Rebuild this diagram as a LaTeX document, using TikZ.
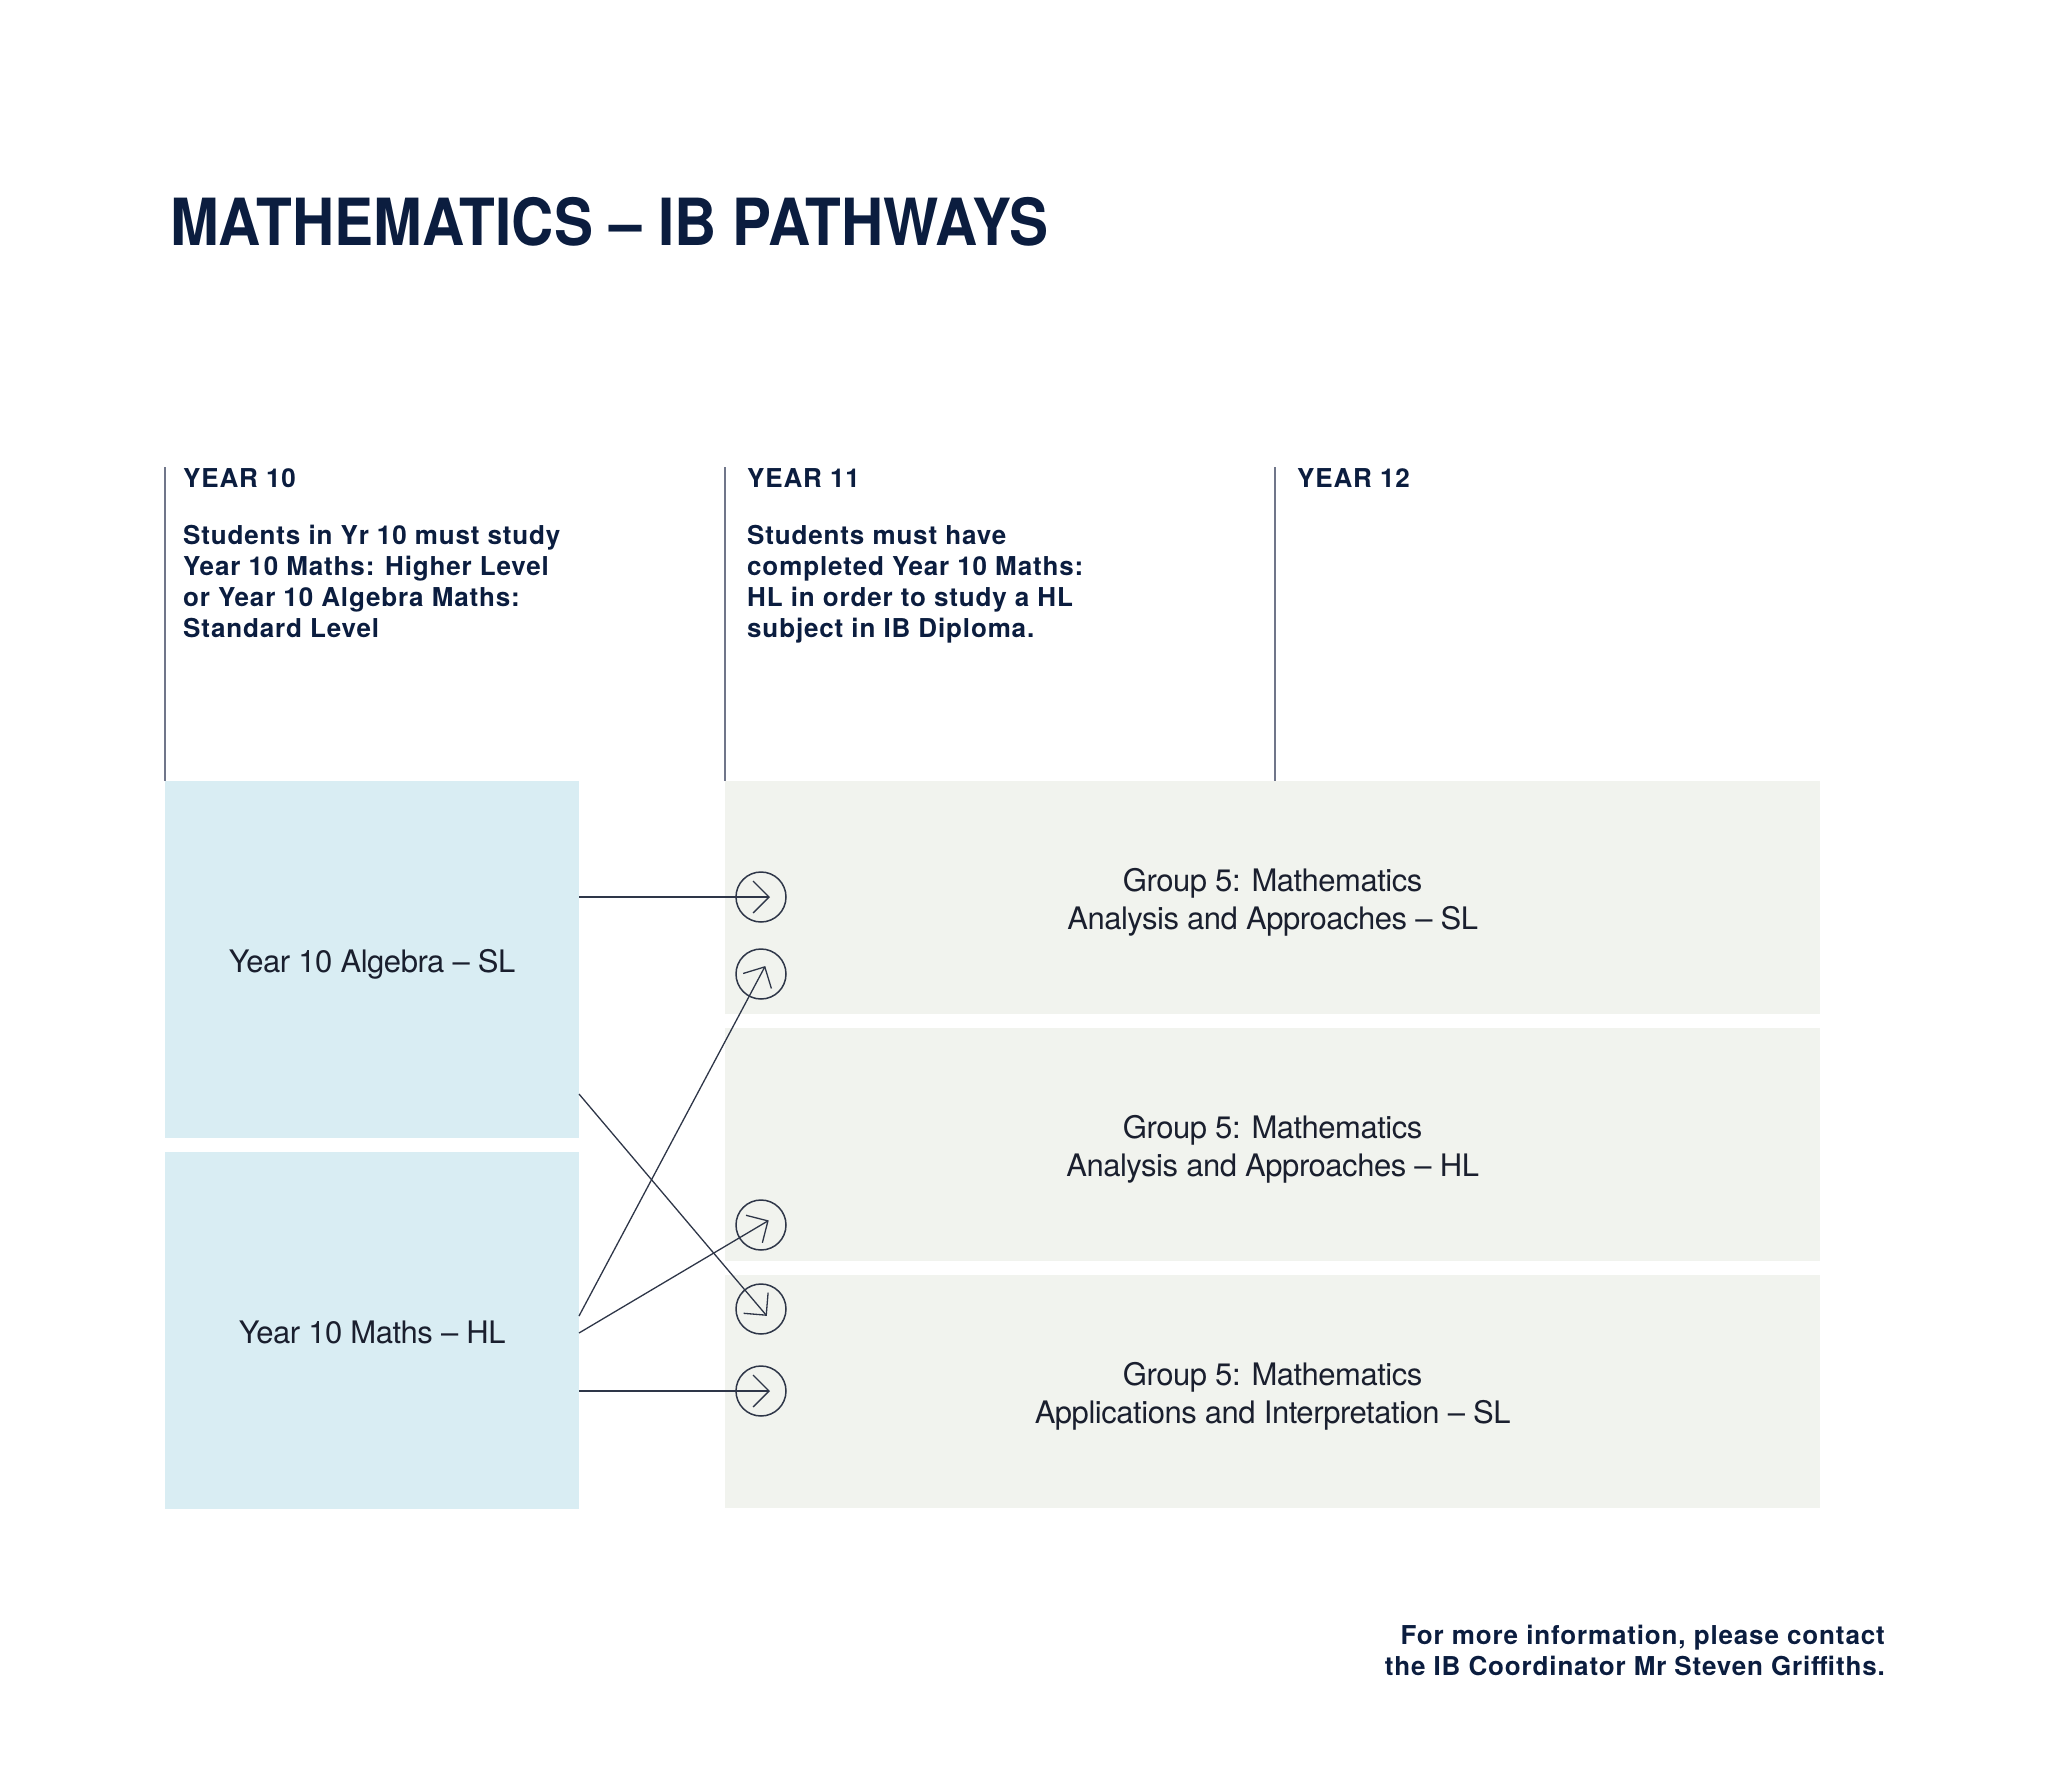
\documentclass[tikz,border=0pt]{standalone}
\usepackage{fontspec}
\setmainfont{TeX Gyre Heros}
\newfontfamily\titlefont[FakeStretch=0.9]{TeX Gyre Heros}
\newfontfamily\notefont[LetterSpace=3.3]{TeX Gyre Heros}
\newfontfamily\boxfont[LetterSpace=-1.5]{TeX Gyre Heros}
\usetikzlibrary{arrows.meta}
\definecolor{navy}{HTML}{0B1D3F}
\definecolor{ink}{HTML}{1A1F2E}
\definecolor{yrblue}{HTML}{D9EDF3}
\definecolor{ibgreen}{HTML}{F1F3EE}
\definecolor{rulegray}{HTML}{70768A}
\definecolor{linkgray}{HTML}{2E3648}

\begin{document}
\begin{tikzpicture}[x=1pt,y=-1pt,
  yrbox/.style={fill=yrblue,anchor=north west,inner sep=0pt,minimum width=414pt,minimum height=357pt,text height=32pt,text depth=7pt,text=ink,font=\boxfont\fontsize{31}{38}\selectfont},
  ibbox/.style={fill=ibgreen,anchor=north west,inner sep=0pt,minimum width=1095pt,minimum height=233pt,text height=70pt,text depth=7pt,align=center,text=ink,font=\boxfont\fontsize{31}{38}\selectfont},
  note/.style={anchor=base west,inner sep=0pt,align=left,text=navy,font=\notefont\bfseries\fontsize{26}{31}\selectfont},
  entry/.style={circle,draw=linkgray,line width=1.5pt,minimum size=50pt,inner sep=0pt},
  link/.style={draw=linkgray,line width=1.3pt,shorten >=-9pt,-{Straight Barb[length=16pt,width=32pt]}}]
\useasboundingbox (0,0) rectangle (2048,1785);

\node[anchor=base west,inner sep=0pt,text=navy,font=\titlefont\bfseries\fontsize{65}{70}\selectfont] (title) at (170,245) {MATHEMATICS – IB PATHWAYS};

%% year columns
\foreach \x/\tx/\yr in {165/183/10,725/747/11,1275/1297/12}{
  \draw[rulegray,line width=1.5pt] (\x,467) -- (\x,781);
  \node[note] (yr\yr) at (\tx,487) {YEAR \yr};
}
% base = last line
\node[note] (info10) at (183,637) {Students in Yr 10 must study\\Year 10 Maths: Higher Level\\or Year 10 Algebra Maths:\\Standard Level};
\node[note] (info11) at (747,637) {Students must have\\completed Year 10 Maths:\\HL in order to study a HL\\subject in IB Diploma.};

%% year 10 courses
\node[yrbox] (alg) at (165,781) {Year 10 Algebra – SL};
\node[yrbox] (hl) at (165,1152) {Year 10 Maths – HL};

%% IB courses
\node[ibbox] (aasl) at (725,781) {Group 5: Mathematics\\Analysis and Approaches – SL};
\node[ibbox] (aahl) at (725,1028) {Group 5: Mathematics\\Analysis and Approaches – HL};
\node[ibbox] (aisl) at (725,1275) {Group 5: Mathematics\\Applications and Interpretation – SL};

\node[entry] (in1) at (761,897) {};
\node[entry] (in2) at (761,974) {};
\node[entry] (in3) at (761,1225) {};
\node[entry] (in4) at (761,1309) {};
\node[entry] (in5) at (761,1391) {};

\coordinate (alg1) at (579,897);
\coordinate (alg2) at (579,1094);
\coordinate (hl1) at (579,1316);
\coordinate (hl2) at (579,1333);
\coordinate (hl3) at (579,1391);
\draw[link] (alg1) -- (in1.center);
\draw[link] (alg2) -- (in4.center);
\draw[link] (hl1) -- (in2.center);
\draw[link] (hl2) -- (in3.center);
\draw[link] (hl3) -- (in5.center);

\node[note,anchor=base east,align=right] (contact) at (1885,1675) {For more information, please contact\\the IB Coordinator Mr Steven Griffiths.};
\end{tikzpicture}
\end{document}
